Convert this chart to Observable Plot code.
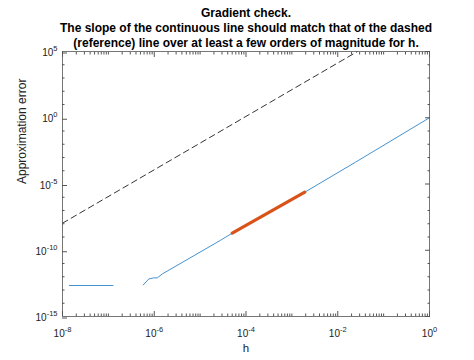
<!DOCTYPE html>
<html><head><meta charset="utf-8">
<script src="https://cdn.jsdelivr.net/npm/d3@7"></script>
<script src="https://cdn.jsdelivr.net/npm/@observablehq/plot@0.6"></script>
<style>
body{margin:0;background:#fff}
svg{font-family:"Liberation Sans",Arial,Helvetica,sans-serif}
</style>
</head><body><div id="chart"></div>
<script>
// ---- chart values ----
const titleLines = [
  "Gradient check.",
  "The slope of the continuous line should match that of the dashed",
  "(reference) line over at least a few orders of magnitude for h."
];
const xLabel = "h";
const yLabel = "Approximation error";

const xTicks = [1e-8, 1e-6, 1e-4, 1e-2, 1];
const yTicks = [1e-15, 1e-10, 1e-5, 1, 1e5];
const xDecades = [1e-8, 1e-7, 1e-6, 1e-5, 1e-4, 1e-3, 1e-2, 1e-1];
const yDecades = [1e-14, 1e-13, 1e-12, 1e-11, 1e-9, 1e-8, 1e-7, 1e-6, 1e-4, 1e-3, 1e-2, 1e-1, 1e1, 1e2, 1e3, 1e4];
const minorMultiples = [2, 3, 4, 5, 6, 7, 8, 9];

// dashed reference line
const refH   = [1e-8, 2.69e-2];
const refErr = [1.1e-8, 1e5];

// continuous (blue) line; null = gap (zero error)
const errH = [1.41e-8, 1.26e-7, 3.0e-7, 5.75e-7, 7.59e-7, 9.55e-7, 1.17e-6, 1.51e-6, 2.75e-5, 5.01e-5, 1.91e-3, 2.45e-2, 1];
const errV = [2.19e-13, 2.19e-13, null, 2.40e-13, 6.76e-13, 8.13e-13, 8.32e-13, 1.66e-12, 5.50e-10, 1.95e-9, 2.40e-6, 4.47e-4, 1.0];

// highlighted (orange) segment
const fitH = [5.01e-5, 1.91e-3];
const fitV = [1.95e-9, 2.40e-6];

// ---- build ----
const xMinor = xDecades.flatMap(d => minorMultiples.map(m => m * d)).concat([1e-7, 1e-5, 1e-3, 1e-1]);
const yMinor = yDecades;
const blue = errH.map((h, i) => ({h, e: errV[i]}));
const ref = refH.map((h, i) => ({h, e: refErr[i]}));
const fit = fitH.map((h, i) => ({h, e: fitV[i]}));
const fmt = v => "10^" + Math.round(Math.log10(v));
const blank = () => "";
const axisColor = "#555";

const chart = Plot.plot({
  width: 474, height: 360,
  marginLeft: 62, marginRight: 45, marginTop: 51, marginBottom: 44,
  style: {fontSize: "10px", color: "#222", background: "#fff"},
  x: {type: "log", domain: [1e-8, 1]},
  y: {type: "log", domain: [1e-15, 1e5]},
  marks: [
    Plot.line(ref, {x: "h", y: "e", stroke: "#000", strokeWidth: 0.8, strokeDasharray: "6,4", clip: true}),
    Plot.line(blue, {x: "h", y: "e", stroke: "#4592d0", strokeWidth: 1}),
    Plot.line(fit, {x: "h", y: "e", stroke: "#D95319", strokeWidth: 3.2, strokeLinecap: "round"}),
    Plot.frame({stroke: axisColor, strokeWidth: 0.8}),
    Plot.axisX({anchor: "bottom", ticks: xTicks, tickSize: -5, tickPadding: 18, tickFormat: fmt, stroke: axisColor, label: null}),
    Plot.axisX({anchor: "bottom", ticks: xMinor, tickSize: -2.5, tickFormat: blank, stroke: axisColor, label: null}),
    Plot.axisX({anchor: "top", ticks: xTicks, tickSize: -5, tickFormat: blank, stroke: axisColor, label: null}),
    Plot.axisX({anchor: "top", ticks: xMinor, tickSize: -2.5, tickFormat: blank, stroke: axisColor, label: null}),
    Plot.axisY({anchor: "left", ticks: yTicks, tickSize: -5, tickPadding: 10, dy: 1.5, tickFormat: fmt, stroke: axisColor, label: null}),
    Plot.axisY({anchor: "left", ticks: yMinor, tickSize: -2.5, tickFormat: blank, stroke: axisColor, label: null}),
    Plot.axisY({anchor: "right", ticks: yTicks, tickSize: -5, tickFormat: blank, stroke: axisColor, label: null}),
    Plot.axisY({anchor: "right", ticks: yMinor, tickSize: -2.5, tickFormat: blank, stroke: axisColor, label: null}),
    Plot.text([titleLines.join("\n")], {frameAnchor: "top", lineAnchor: "top", dy: -45, lineHeight: 1.25, fontSize: 12, fontWeight: "bold", fill: "#000"}),
    Plot.text([xLabel], {frameAnchor: "bottom", lineAnchor: "bottom", dy: 35, fontSize: 11.5, fill: "#222"}),
    Plot.text([yLabel], {frameAnchor: "left", rotate: -90, dx: -40, fontSize: 12, fill: "#222"})
  ]
});

// render exponents as superscripts
chart.querySelectorAll("text").forEach(t => {
  const m = /^10\^(-?\d+)$/.exec(t.textContent);
  if (!m) return;
  t.textContent = "10";
  const s = document.createElementNS("http://www.w3.org/2000/svg", "tspan");
  s.setAttribute("dy", "-5");
  s.setAttribute("font-size", "7.5px");
  s.textContent = m[1];
  t.appendChild(s);
});
document.getElementById("chart").appendChild(chart);
</script>
</body></html>
